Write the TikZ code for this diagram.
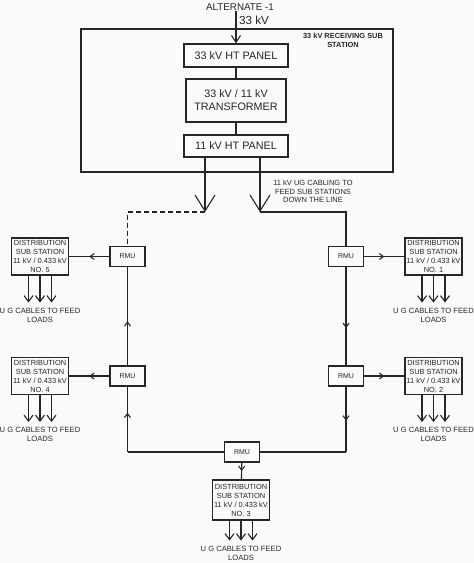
\documentclass[tikz,border=0pt]{standalone}
\usepackage{fontspec}
\setmainfont{Liberation Sans}
\usetikzlibrary{arrows.meta,positioning,decorations.markings}
\definecolor{bgcol}{RGB}{250,250,250}
\definecolor{linecol}{RGB}{38,38,38}

\begin{document}
\begin{tikzpicture}[x=1pt,y=-1pt,line width=1.1pt,color=linecol,
		panel/.style={draw,inner sep=0pt,align=center,font=\fontsize{10.8}{13}\selectfont},
		rmu/.style={draw,minimum width=35pt,minimum height=20pt,inner sep=0pt,font=\fontsize{7}{8}\selectfont},
		substation/.style={draw,minimum width=57pt,minimum height=37pt,inner sep=0pt,align=center,font=\fontsize{7.4}{9}\selectfont},
		note/.style={inner sep=0pt,align=center,font=\fontsize{7.5}{8.6}\selectfont},
		feed/.style={-{Straight Barb[length=6pt,width=9pt]}},
		bigtip/.style={-{Straight Barb[length=16pt,width=20pt]}},
		midarrow/.style={postaction={decorate},decoration={markings,mark=at position #1 with {\arrow{Straight Barb[length=4pt,width=6pt]}}}},
		midarrow/.default=0.5]
	\fill[bgcol] (0,0) rectangle (474,563);
	\useasboundingbox (0,0) rectangle (474,563);
	\node[inner sep=0pt,font=\fontsize{9.8}{12}\selectfont] (alt) at (240,7) {ALTERNATE -1};
	\node[inner sep=0pt,font=\fontsize{11.7}{14}\selectfont] (kv) at (254,20) {33 kV};
	\node[draw,minimum width=312pt,minimum height=143pt,inner sep=0pt] (rss) at (237,100.5) {};
	\node[note,font=\fontsize{7.4}{9}\selectfont\bfseries] (rsslabel) at (343,40.5) {33 kV RECEIVING SUB\\STATION};
	\node[panel,minimum width=104pt,minimum height=23pt] (ht33) at (236,55.5) {33 kV HT PANEL};
	\node[panel,minimum width=100pt,minimum height=43pt] (trf) at (236,100.5) {33 kV / 11 kV\\TRANSFORMER};
	\node[panel,minimum width=104pt,minimum height=22pt] (ht11) at (236,146) {11 kV HT PANEL};
	\coordinate (tipL) at (205,212);
	\coordinate (tipR) at (260,212);
	\node[note] (ugnote) at (313,191.5) {11 kV UG CABLING TO\\FEED SUB STATIONS\\DOWN THE LINE};
	\node[rmu] (rmu1) at (346,256.5) {RMU};
	\node[rmu] (rmu2) at (346,376) {RMU};
	\node[rmu] (rmu3) at (242,452) {RMU};
	\node[rmu] (rmu4) at (127.5,376) {RMU};
	\node[rmu] (rmu5) at (127.5,256.5) {RMU};
	\coordinate (cornerR) at (rmu2.south |- rmu3);
	\coordinate (cornerL) at (rmu4.south |- rmu3);
	\node[substation] (ds1) at (433.5,256.5) {DISTRIBUTION\\SUB STATION\\11 kV / 0.433 kV\\NO. 1};
	\node[substation] (ds2) at (433.5,376) {DISTRIBUTION\\SUB STATION\\11 kV / 0.433 kV\\NO. 2};
	\node[substation,minimum height=40pt] (ds3) at (241,500) {DISTRIBUTION\\SUB STATION\\11 kV / 0.433 kV\\NO. 3};
	\node[substation] (ds4) at (40,376) {DISTRIBUTION\\SUB STATION\\11 kV / 0.433 kV\\NO. 4};
	\node[substation] (ds5) at (40,256.5) {DISTRIBUTION\\SUB STATION\\11 kV / 0.433 kV\\NO. 5};

	\draw[-{Straight Barb[length=7pt,width=9pt]}] (ht33.north |- alt.south) -- (ht33.north);
	\draw (ht33) -- (trf);
	\draw (trf) -- (ht11);
	\draw[bigtip] (ht11.south -| tipL) -- (tipL);
	\draw[bigtip] (ht11.south -| tipR) -- (tipR);
	\draw[dash pattern=on 5pt off 3pt] (tipL) -| (rmu5.north);
	\draw (tipR) -| (rmu1.north);
	\draw[midarrow=0.62] (rmu1) -- (rmu2);
	\draw[midarrow=0.52] (rmu2) -- (cornerR);
	\draw (cornerR) -- (rmu3);
	\draw (rmu3) -- (cornerL);
	\draw[midarrow=0.6] (cornerL) -- (rmu4);
	\draw[midarrow=0.45] (rmu4) -- (rmu5);
	\draw[midarrow] (rmu1) -- (ds1);
	\draw[midarrow] (rmu2) -- (ds2);
	\draw[midarrow] (rmu3) -- (ds3);
	\draw[midarrow] (rmu4) -- (ds4);
	\draw[midarrow] (rmu5) -- (ds5);
	\foreach \ds/\len in {ds1/27,ds2/27,ds3/20,ds4/27,ds5/27} {
		\node[note,font=\fontsize{7.6}{9}\selectfont,below=\len pt+5pt of \ds] (\ds-loads) {U G CABLES TO FEED\\LOADS};
		\foreach \dx in {-11.5,0,11.5}
			\draw[feed] ([xshift=\dx pt]\ds.south) -- ++(0,\len);
	}
\end{tikzpicture}
\end{document}
